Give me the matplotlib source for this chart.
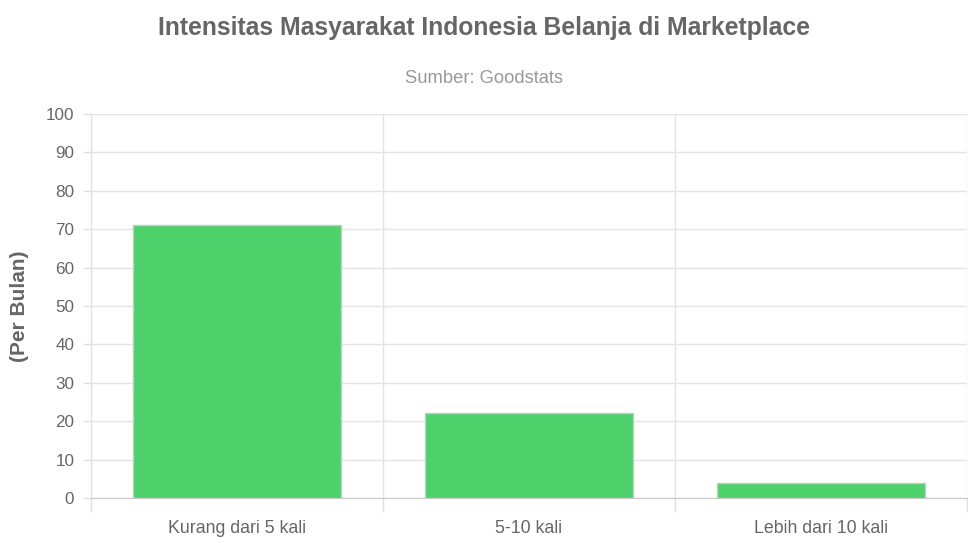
import matplotlib.pyplot as plt

plt.rcParams['font.family'] = ['Liberation Sans', 'DejaVu Sans']

categories = ['Kurang dari 5 kali', '5-10 kali', 'Lebih dari 10 kali']
values = [71, 22, 4]
y_ticks = [0, 10, 20, 30, 40, 50, 60, 70, 80, 90, 100]

fig = plt.figure(figsize=(9.68, 5.43), dpi=100)
ax = fig.add_axes([0.094, 0.083, 0.905, 0.707])

x = list(range(len(categories)))
ax.bar(x, values, width=0.71, color='#4dd16a', edgecolor='#c8c8c8', linewidth=1, zorder=3)

ax.set_xlim(-0.5, len(categories) - 0.5)
ax.set_ylim(0, 100)
ax.set_yticks(y_ticks)
ax.set_xticks(x)
ax.set_xticklabels(categories)
ax.set_xticks([i - 0.5 for i in range(len(categories) + 1)], minor=True)

ax.tick_params(axis='x', which='major', length=0, pad=16, labelsize=12.8, labelcolor='#666666')
ax.tick_params(axis='x', which='minor', length=10, color='#e0e0e0', width=1)
ax.tick_params(axis='y', length=6, color='#e0e0e0', width=1, pad=6, labelsize=12.3, labelcolor='#666666')

ax.grid(axis='y', which='major', color='#e4e4e4', linewidth=1, zorder=0)
ax.grid(axis='x', which='minor', color='#e4e4e4', linewidth=1, zorder=0)

for side in ['top', 'right']:
    ax.spines[side].set_visible(False)
ax.spines['left'].set_color('#e0e0e0')
ax.spines['bottom'].set_color('#c8c8c8')

ax.set_ylabel('(Per Bulan)', fontsize=15, fontweight='bold', color='#666666', labelpad=12)

fig.text(0.5, 0.948, 'Intensitas Masyarakat Indonesia Belanja di Marketplace',
         ha='center', va='center', fontsize=17.8, fontweight='bold', color='#666666')
fig.text(0.5, 0.855, 'Sumber: Goodstats', ha='center', va='center', fontsize=13.2, color='#999999')

fig.savefig('out.png', dpi=100)
